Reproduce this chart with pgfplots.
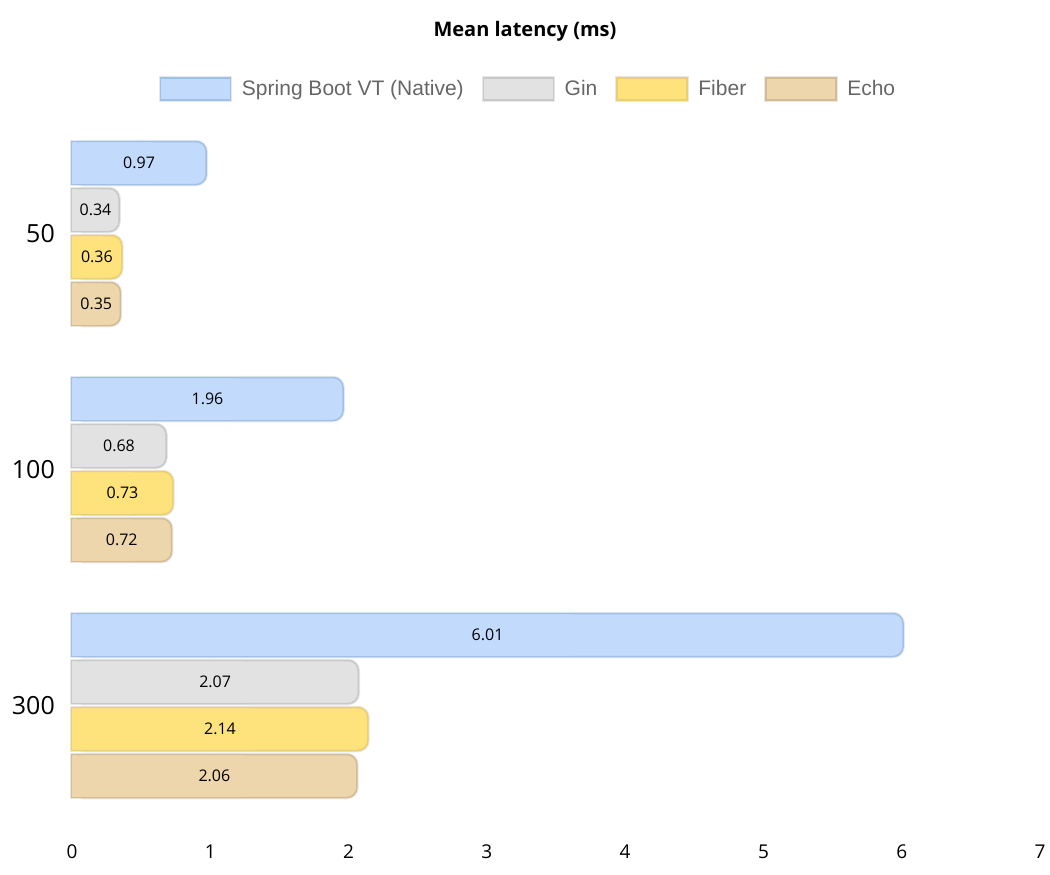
\documentclass[border=0pt]{standalone}
\usepackage{pgfplots}
\pgfplotsset{compat=1.18}
\usepackage{pgfplotstable}
\usepackage{fontspec}
\setmainfont{Open Sans}
\newfontfamily\legfont{Liberation Sans}

\definecolor{springF}{RGB}{194,219,252}
\definecolor{springD}{RGB}{160,192,236}
\definecolor{ginF}{RGB}{226,226,226}
\definecolor{ginD}{RGB}{200,200,200}
\definecolor{fiberF}{RGB}{254,226,124}
\definecolor{fiberD}{RGB}{234,206,112}
\definecolor{echoF}{RGB}{237,214,172}
\definecolor{echoD}{RGB}{213,187,146}
\definecolor{legtext}{RGB}{102,102,102}
\definecolor{halo}{RGB}{232,232,232}

% cat: 2 = 50, 1 = 100, 0 = 300
\pgfplotstableread{
cat v
2 0.97
1 1.96
0 6.01
}\spring
\pgfplotstableread{
cat v
2 0.34
1 0.68
0 2.07
}\gin
\pgfplotstableread{
cat v
2 0.36
1 0.73
0 2.14
}\fiber
\pgfplotstableread{
cat v
2 0.35
1 0.72
0 2.06
}\echo

\pgfplotsset{
  mybar/.style 2 args={xbar, fill=#1, draw=#2, line width=1.5bp,
    preaction={draw=halo, line width=3.5bp}},
  vlabel/.style={forget plot, draw=none, mark=none, nodes near coords,
    point meta=explicit symbolic,
    every node near coord/.style={anchor=center, yshift=#1, font=\fontsize{16bp}{16bp}\selectfont, text=black, inner sep=0pt}},
}

\newcommand{\series}[5]{%
  % #1 table, #2 fill, #3 draw, #4 shift, #5 legend
  \addplot[forget plot, mybar={#2}{#3}, bar shift=#4, bar width=43bp] table[x expr=\thisrow{v}/2, y=cat] {#1};
  \addplot[mybar={#2}{#3}, bar shift=#4, bar width=43bp, rounded corners=10bp] table[x=v, y=cat] {#1};
  \addlegendentry{#5}
  \addplot[forget plot, xbar, fill=none, draw=#3, line width=1.5bp, bar shift=#4, bar width=43bp] table[x expr=\thisrow{v}/2, y=cat] {#1};
  \addplot[forget plot, xbar, fill=#2, draw=none, bar shift=#4, bar width=41.5bp] table[x expr=\thisrow{v}*0.6, y=cat] {#1};
}

\begin{document}
\begin{tikzpicture}
\path[use as bounding box] (0,0) rectangle (1050bp,-875bp);
\begin{axis}[
  at={(72bp,-823.5bp)}, anchor=south west,
  scale only axis, width=968bp, height=708bp,
  xmin=0, xmax=7, ymin=-0.5, ymax=2.5,
  xtick={0,1,2,3,4,5,6,7}, ytick={0,1,2}, yticklabels={300,100,50},
  axis line style={draw=none}, major tick length=0pt, tick style={draw=none},
  /pgf/number format/assume math mode=true,
  xticklabel style={font=\fontsize{19bp}{19bp}\selectfont, anchor=center, yshift=-28.5bp, inner sep=0pt},
  yticklabel style={font=\fontsize{25bp}{25bp}\selectfont, anchor=east, xshift=-17bp, inner sep=0pt},
  clip=false,
  legend columns=4,
  legend style={at={(0.0909,1.0382)}, anchor=west, draw=none, fill=none,
    inner sep=0pt, outer sep=0pt, yshift=-0.5bp, xshift=-1bp,
    font=\legfont\fontsize{21bp}{21bp}\selectfont,
    /tikz/column sep=9.5bp,
    /tikz/every even column/.append style={column sep=18bp},
    nodes={inner sep=0pt, text=legtext}},
  legend image code/.code={\draw[#1, sharp corners, line width=1.5bp] (0bp,-11bp) rectangle (70bp,11bp);},
]
\series{\spring}{springF}{springD}{70.5bp}{Spring Boot VT (Native)}
\series{\gin}{ginF}{ginD}{23.5bp}{Gin}
\series{\fiber}{fiberF}{fiberD}{-23.5bp}{Fiber}
\series{\echo}{echoF}{echoD}{-70.5bp}{Echo}

\addplot[vlabel=70.5bp] table[x expr=\thisrow{v}/2, y=cat, meta=v] {\spring};
\addplot[vlabel=23.5bp] table[x expr=\thisrow{v}/2, y=cat, meta=v] {\gin};
\addplot[vlabel=-23.5bp] table[x expr=\thisrow{v}/2, y=cat, meta=v] {\fiber};
\addplot[vlabel=-70.5bp] table[x expr=\thisrow{v}/2, y=cat, meta=v] {\echo};
\end{axis}
\node[font=\bfseries\fontsize{20bp}{20bp}\selectfont, inner sep=0pt] at (525bp,-31.5bp) {Mean latency (ms)};
\end{tikzpicture}
\end{document}
